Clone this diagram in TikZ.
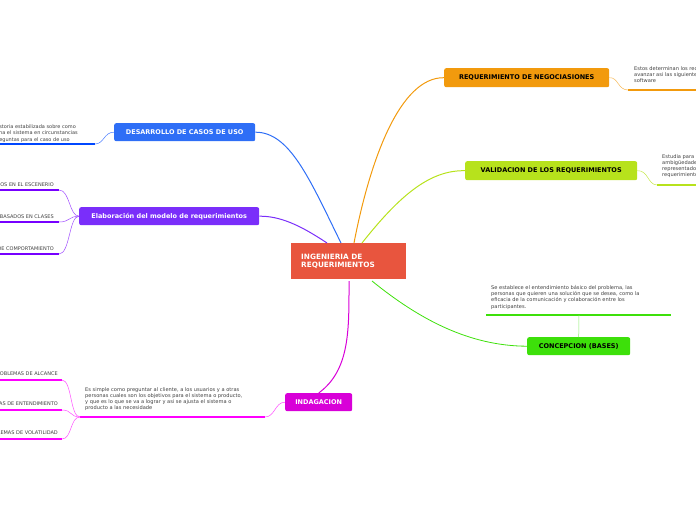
\documentclass[tikz,border=0pt]{standalone}
\usepackage{fontspec}
\setmainfont{DejaVu Sans}
\begin{document}
\begin{tikzpicture}[x=1pt,y=-1pt,
 topic/.style={rounded corners=2pt,font=\fontsize{6.5}{7}\selectfont\bfseries,inner sep=0pt,anchor=north west},
 small/.style={font=\fontsize{5.1}{6.3}\selectfont,inner sep=0pt,text=black!75,align=left},
 lab/.style={font=\fontsize{5}{5.6}\selectfont,inner sep=0pt,text=black!75}]
\useasboundingbox (0,0) rectangle (696,520);
\definecolor{cred}{HTML}{E8553E}\definecolor{corg}{HTML}{F29A0D}\definecolor{cyel}{HTML}{B7E21C}
\definecolor{cgrn}{HTML}{3DE00A}\definecolor{cmag}{HTML}{D800D8}\definecolor{cpur}{HTML}{7A2EFA}\definecolor{cblu}{HTML}{2E6EF6}
\definecolor{lmag}{HTML}{FF00FF}\definecolor{lpur}{HTML}{7700FF}\definecolor{lblu}{HTML}{0047FF}
% nodes
\node[fill=cred,minimum width=115,minimum height=36,anchor=north west,inner sep=0pt] (c) at (291,243) {};
\node[font=\fontsize{7.3}{8.3}\selectfont\bfseries,text=white,align=left,anchor=west,inner sep=0pt] at (301,261) {INGENIERIA DE\\REQUERIMIENTOS};
\node[topic,fill=corg,minimum width=165,minimum height=19] (neg) at (444,68) {REQUERIMIENTO DE NEGOCIASIONES};
\node[topic,fill=cyel,minimum width=172,minimum height=19] (val) at (465,161) {VALIDACION DE LOS REQUERIMIENTOS};
\node[topic,fill=cgrn,minimum width=103,minimum height=18] (con) at (527,337) {CONCEPCION (BASES)};
\node[topic,fill=cmag,text=white,minimum width=67,minimum height=18] (ind) at (285,393) {INDAGACION};
\node[topic,fill=cpur,text=white,minimum width=180,minimum height=18] (ela) at (79,207) {Elaboración del modelo de requerimientos};
\node[topic,fill=cblu,text=white,minimum width=141,minimum height=18] (des) at (114,123) {DESARROLLO DE CASOS DE USO};
% main connectors
\draw[corg,line width=1pt] (354,243) .. controls (370,160) and (400,77) .. (neg.west);
\draw[cyel,line width=1pt] (362,243) .. controls (400,195) and (430,170) .. (val.west);
\draw[cgrn,line width=0.8pt] (372,281) .. controls (420,320) and (470,346) .. (con.west);
\draw[cmag,line width=1pt] (349,281) .. controls (349,330) and (350,370) .. (ind.north);
\draw[cpur,line width=1pt] (327,243) .. controls (300,225) and (280,216) .. (ela.east);
\draw[cblu,line width=1pt] (341,243) .. controls (310,180) and (290,132) .. (des.east);
% negociaciones
\coordinate (nu) at (628,90);
\draw[corg!70,line width=0.5pt] (neg.east) .. controls (618,77) and (618,90) .. (nu);
\draw[corg,line width=1.5pt] (nu) -- (700,90);
\node[small,anchor=north west] at (634,66) {Estos determinan los requerimientos\\avanzar asi las siguientes etapas del\\software};
% validacion
\coordinate (vu) at (657,185);
\draw[cyel!80,line width=0.5pt] (val.east) .. controls (648,170) and (648,185) .. (vu);
\draw[cyel,line width=1.5pt] (vu) -- (700,185);
\node[small,anchor=north west] at (662,154) {Estudia para detectar errores,\\ambigüedades u omisiones\\representados en los\\requerimientos};
% concepcion
\draw[cgrn,line width=1.5pt] (486,315) coordinate (cu) -- (671,315);
\draw[cgrn!60,line width=0.5pt] (con.north) -- (579,315);
\node[small,anchor=north west] at (491,285) {Se establece el entendimiento básico del problema, las\\personas que quieren una solución que se desea, como la\\eficacia de la comunicación y colaboración entre los\\participantes.};
% indagacion
\coordinate (iu) at (265,417);\coordinate (il) at (80,417);
\draw[lmag!70,line width=0.5pt] (ind.west) .. controls (275,402) and (275,417) .. (iu);
\draw[lmag,line width=1.5pt] (il) -- (iu);
\node[small,anchor=north west] at (85,387) {Es simple como preguntar al cliente, a los usuarios y a otras\\personas cuales son los objetivos para el sistema o producto,\\y que es lo que se va a lograr y asi se ajusta el sistema o\\producto a las necesidade};
\foreach \y/\t in {380/PROBLEMAS DE ALCANCE,410/PROBLEMAS DE ENTENDIMIENTO,439/PROBLEMAS DE VOLATILIDAD}{
 \draw[lmag!70,line width=0.5pt] (il) .. controls (70,417) and (72,\y) .. (62,\y);
 \draw[lmag,line width=1.5pt] (62,\y) -- (-5,\y);
 \node[lab,anchor=base east] at (58,\y-5) {\t};}
% elaboracion
\foreach \y/\t in {190/ELEMENTOS BASADOS EN EL ESCENERIO,222/ELEMENTOS BASADOS EN CLASES,254/ELEMENTOS DE COMPORTAMIENTO}{
 \draw[lpur!70,line width=0.5pt] (ela.west) .. controls (69,216) and (70,\y) .. (59,\y);
 \draw[lpur,line width=1.5pt] (59,\y) -- (-5,\y);
 \node[lab,anchor=base east] at (54,\y-4) {\t};}
% desarrollo
\coordinate (du) at (95,144);
\draw[lblu!70,line width=0.5pt] (des.west) .. controls (104,132) and (104,144) .. (du);
\draw[lblu,line width=1.5pt] (du) -- (-5,144);
\node[lab,anchor=base east] at (76,128) {Es una historia estabilizada sobre como};
\node[lab,anchor=base east] at (78,134.5) {funciona el sistema en circunstancias};
\node[lab,anchor=base east] at (70,141) {y preguntas para el caso de uso};
\end{tikzpicture}
\end{document}
